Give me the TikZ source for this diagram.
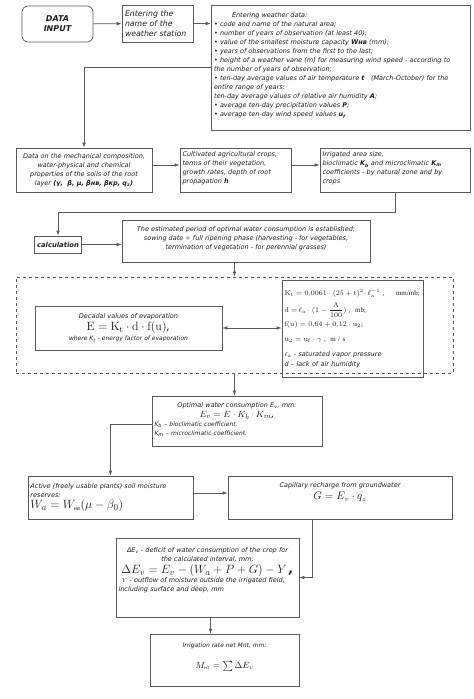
\documentclass[tikz,border=0pt]{standalone}
\usepackage[no-math]{fontspec}
\setmainfont{DejaVu Sans}
\newfontfamily\tnr{Liberation Serif}
\usetikzlibrary{arrows.meta}
\definecolor{lin}{HTML}{5A5A5A}
\definecolor{ink}{HTML}{1E1E1E}
\newcommand{\lowpad}[1]{\rule[-#1]{0pt}{#1}}

\begin{document}
\begin{tikzpicture}[x=1pt,y=-1pt,>={Latex[length=5pt,width=3.6pt]},
  every node/.style={font=\fontsize{6.5}{9}\selectfont\itshape,text=ink},
  box/.style={draw=lin,line width=0.7pt,inner sep=2.5pt},
  link/.style={->,draw=lin,line width=0.7pt}]
  \useasboundingbox (0,0) rectangle (474,699);
  % input row
  \node[box,rounded corners=6pt,minimum width=71pt,minimum height=36pt,align=center,font=\fontsize{8}{10}\selectfont\bfseries\itshape] (inp) at (57.5,24) {DATA\\INPUT};
  \node[box,minimum width=71pt,minimum height=37pt,text width=65pt,align=left,font=\fontsize{7.8}{10}\selectfont\itshape] (stn) at (157.5,23.5) {Entering the\\name of the\\weather station};
  \node[box,minimum width=259pt,minimum height=125pt,text width=253pt,align=left] (wx) at (340.5,67.5) {\hspace*{18pt}Entering weather data:\\
    • code and name of the natural area;\\
    • number of years of observation (at least 40);\\
    • value of the smallest moisture capacity \textbf{Wнв} (mm);\\
    • years of observations from the first to the last;\\
    • height of a weather vane (m) for measuring wind speed - according to\\
    the number of years of observation;\\
    • ten-day average values of air temperature \textbf{t}\quad(March-October) for the\\
    entire range of years;\\
    ten-day average values of relative air humidity \textbf{A};\\
    • average ten-day precipitation values \textbf{P};\\
    • average ten-day wind speed values \textbf{u\textsubscript{f}}\lowpad{5pt}};
  \draw[link] (inp) -- (stn);
  \draw[link] (stn) -- (stn -| wx.west);
  % soil, crops, area
  \node[box,minimum width=136pt,minimum height=44pt,text width=131pt,align=center] (soil) at (84,170) {Data on the mechanical composition,\\water-physical and chemical\\properties of the soils of the root\\layer \textbf{(γ,\ \ β, μ, βнв, βкр, q\textsubscript{z})}};
  \node[box,minimum width=111pt,minimum height=44pt,text width=106pt,align=left] (crop) at (235.5,170) {Cultivated agricultural crops,\\terms of their vegetation,\\growth rates, depth of root\\propagation \textbf{h}\lowpad{4pt}};
  \node[box,minimum width=150pt,minimum height=44pt,text width=145pt,align=left] (irr) at (395,170) {Irrigated area size,\\bioclimatic \textbf{K\textsubscript{b}} and microclimatic \textbf{K\textsubscript{m}}\\coefficients - by natural zone and by\\crops\lowpad{4pt}};
  \draw[link] (wx.west) -| (soil.north);
  \draw[link] ([yshift=5pt]soil.east) -- ([yshift=5pt]crop.west);
  \draw[link] ([yshift=5pt]crop.east) -- ([yshift=5pt]irr.west);
  % calculation
  \node[box,minimum width=46pt,minimum height=17pt,font=\fontsize{6.8}{8}\selectfont\bfseries\itshape] (calc) at (58,244.5) {calculation};
  \node[box,minimum width=248pt,minimum height=42pt,align=center] (per) at (246,241) {The estimated period of optimal water consumption is established:\\sowing date ÷ full ripening phase (harvesting - for vegetables,\\termination of vegetation - for perennial grasses)\lowpad{6pt}};
  \draw[link] (irr.south) -- ++(0,20) -| (calc.north);
  \draw[link] (calc.east) -- (calc.east -| per.west);
  % evaporation group
  \node[draw=lin,dashed,line width=0.7pt,minimum width=437pt,minimum height=96pt] (grp) at (234.5,325) {};
  \node[box,minimum width=187pt,minimum height=44pt,align=center] (dec) at (128.5,328) {Decadal values of evaporation\\[1pt]
    {\fontsize{11.5}{12}\selectfont$\mathrm{E = K_t\cdot d\cdot f(u)}$,}\\[1pt]
    {\fontsize{6}{8}\selectfont where K\textsubscript{t} - energy factor of evaporation}};
  \node[box,minimum width=141pt,minimum height=97pt,text width=136pt,align=left,font=\fontsize{7}{9}\selectfont\tnr] (fml) at (352.5,328.5) {$\mathrm{K_t = 0{,}0061\cdot(25+t)^2\cdot}\,\ell_{\mathrm a}^{-1}$ ,\quad\ \ mm/mb;\\[4pt]
    $\mathrm{d = }\,\ell_{\mathrm a}\cdot\mathrm{(1-{\displaystyle\frac{A}{100}})}$ ,\ \ mb;\\[3pt]
    $\mathrm{f(u)= 0{,}64+0{,}12\cdot u_2}$;\\[6pt]
    $\mathrm{u_2 = u_f\cdot\gamma}$ ,\ \ m / s\\[6pt]
    {\fontsize{6.5}{9}\selectfont\rmfamily\itshape $\ell_{\mathrm a}$ - saturated vapor pressure}\\[1pt]
    {\fontsize{6.5}{9}\selectfont\rmfamily\itshape d – lack of air humidity}};
  \draw[link] (per.south -| grp.north) -- (grp.north);
  \draw[link,<->] (dec.east) -- (dec.east -| fml.west);
  % water consumption
  \node[box,minimum width=170pt,minimum height=50pt,text width=165pt,align=left] (opt) at (237,421) {\centering Optimal water consumption E\textsubscript{v}, mm:\\[1pt]
    {\fontsize{9.5}{10}\selectfont$E_v = E\cdot K_b\cdot K_m$,}\par\raggedright
    {\fontsize{6}{8.5}\selectfont K\textsubscript{b} – bioclimatic coefficient,\\K\textsubscript{m} – microclimatic coefficient.}\lowpad{4pt}};
  \draw[link] (grp.south) -- (grp.south |- opt.north);
  % moisture and recharge
  \node[box,minimum width=165pt,minimum height=43pt,text width=160pt,align=left] (act) at (110.5,497.5) {Active (freely usable plants) soil moisture\\reserves:\\[1pt]
    {\fontsize{13}{14}\selectfont$W_a = W_{\mbox{\fontsize{5}{5}\selectfont нв}}\bigl(\mu-\beta_0\bigr)$}};
  \node[box,minimum width=224pt,minimum height=43pt,align=center] (cap) at (340,497.5) {Capillary recharge from groundwater\\[3pt]
    {\fontsize{10.5}{12}\selectfont$G = E_v\cdot q_z$}\lowpad{13pt}};
  \draw[link] ([yshift=-3pt]opt.west) -| (act.north);
  \draw[link] ([yshift=4.5pt]act.east) -- ([yshift=4.5pt]act.east -| cap.west);
  % deficit
  \node[box,minimum width=183pt,minimum height=79pt,text width=178pt,align=left] (dft) at (207.5,577.5) {\centering ΔE\textsubscript{v} - deficit of water consumption of the crop for\\the calculated interval, mm;\\[2pt]
    {\fontsize{12.5}{14}\selectfont$\Delta E_v = E_v - \bigl(W_a + P + G\bigr) - Y$\,\textbf{,}}\par\raggedright
    \hspace*{3pt}$Y$ - outflow of moisture outside the irrigated field,\\including surface and deep, mm\lowpad{16pt}};
  \draw[link] ([xshift=-28pt]cap.south) |- (dft.east);
  % irrigation rate
  \node[box,minimum width=149pt,minimum height=52pt,align=center] (irn) at (224.5,660) {{\fontsize{6}{8}\selectfont Irrigation rate net Mnt, mm:}\\[12pt]
    {\fontsize{9}{10}\selectfont$M_{\mbox{\fontsize{4.5}{5}\selectfont нт}} = \sum\Delta E_v$}\lowpad{9pt}};
  \draw[link] ([xshift=3pt]dft.south) -- ([xshift=3pt]dft.south |- irn.north);
\end{tikzpicture}
\end{document}
